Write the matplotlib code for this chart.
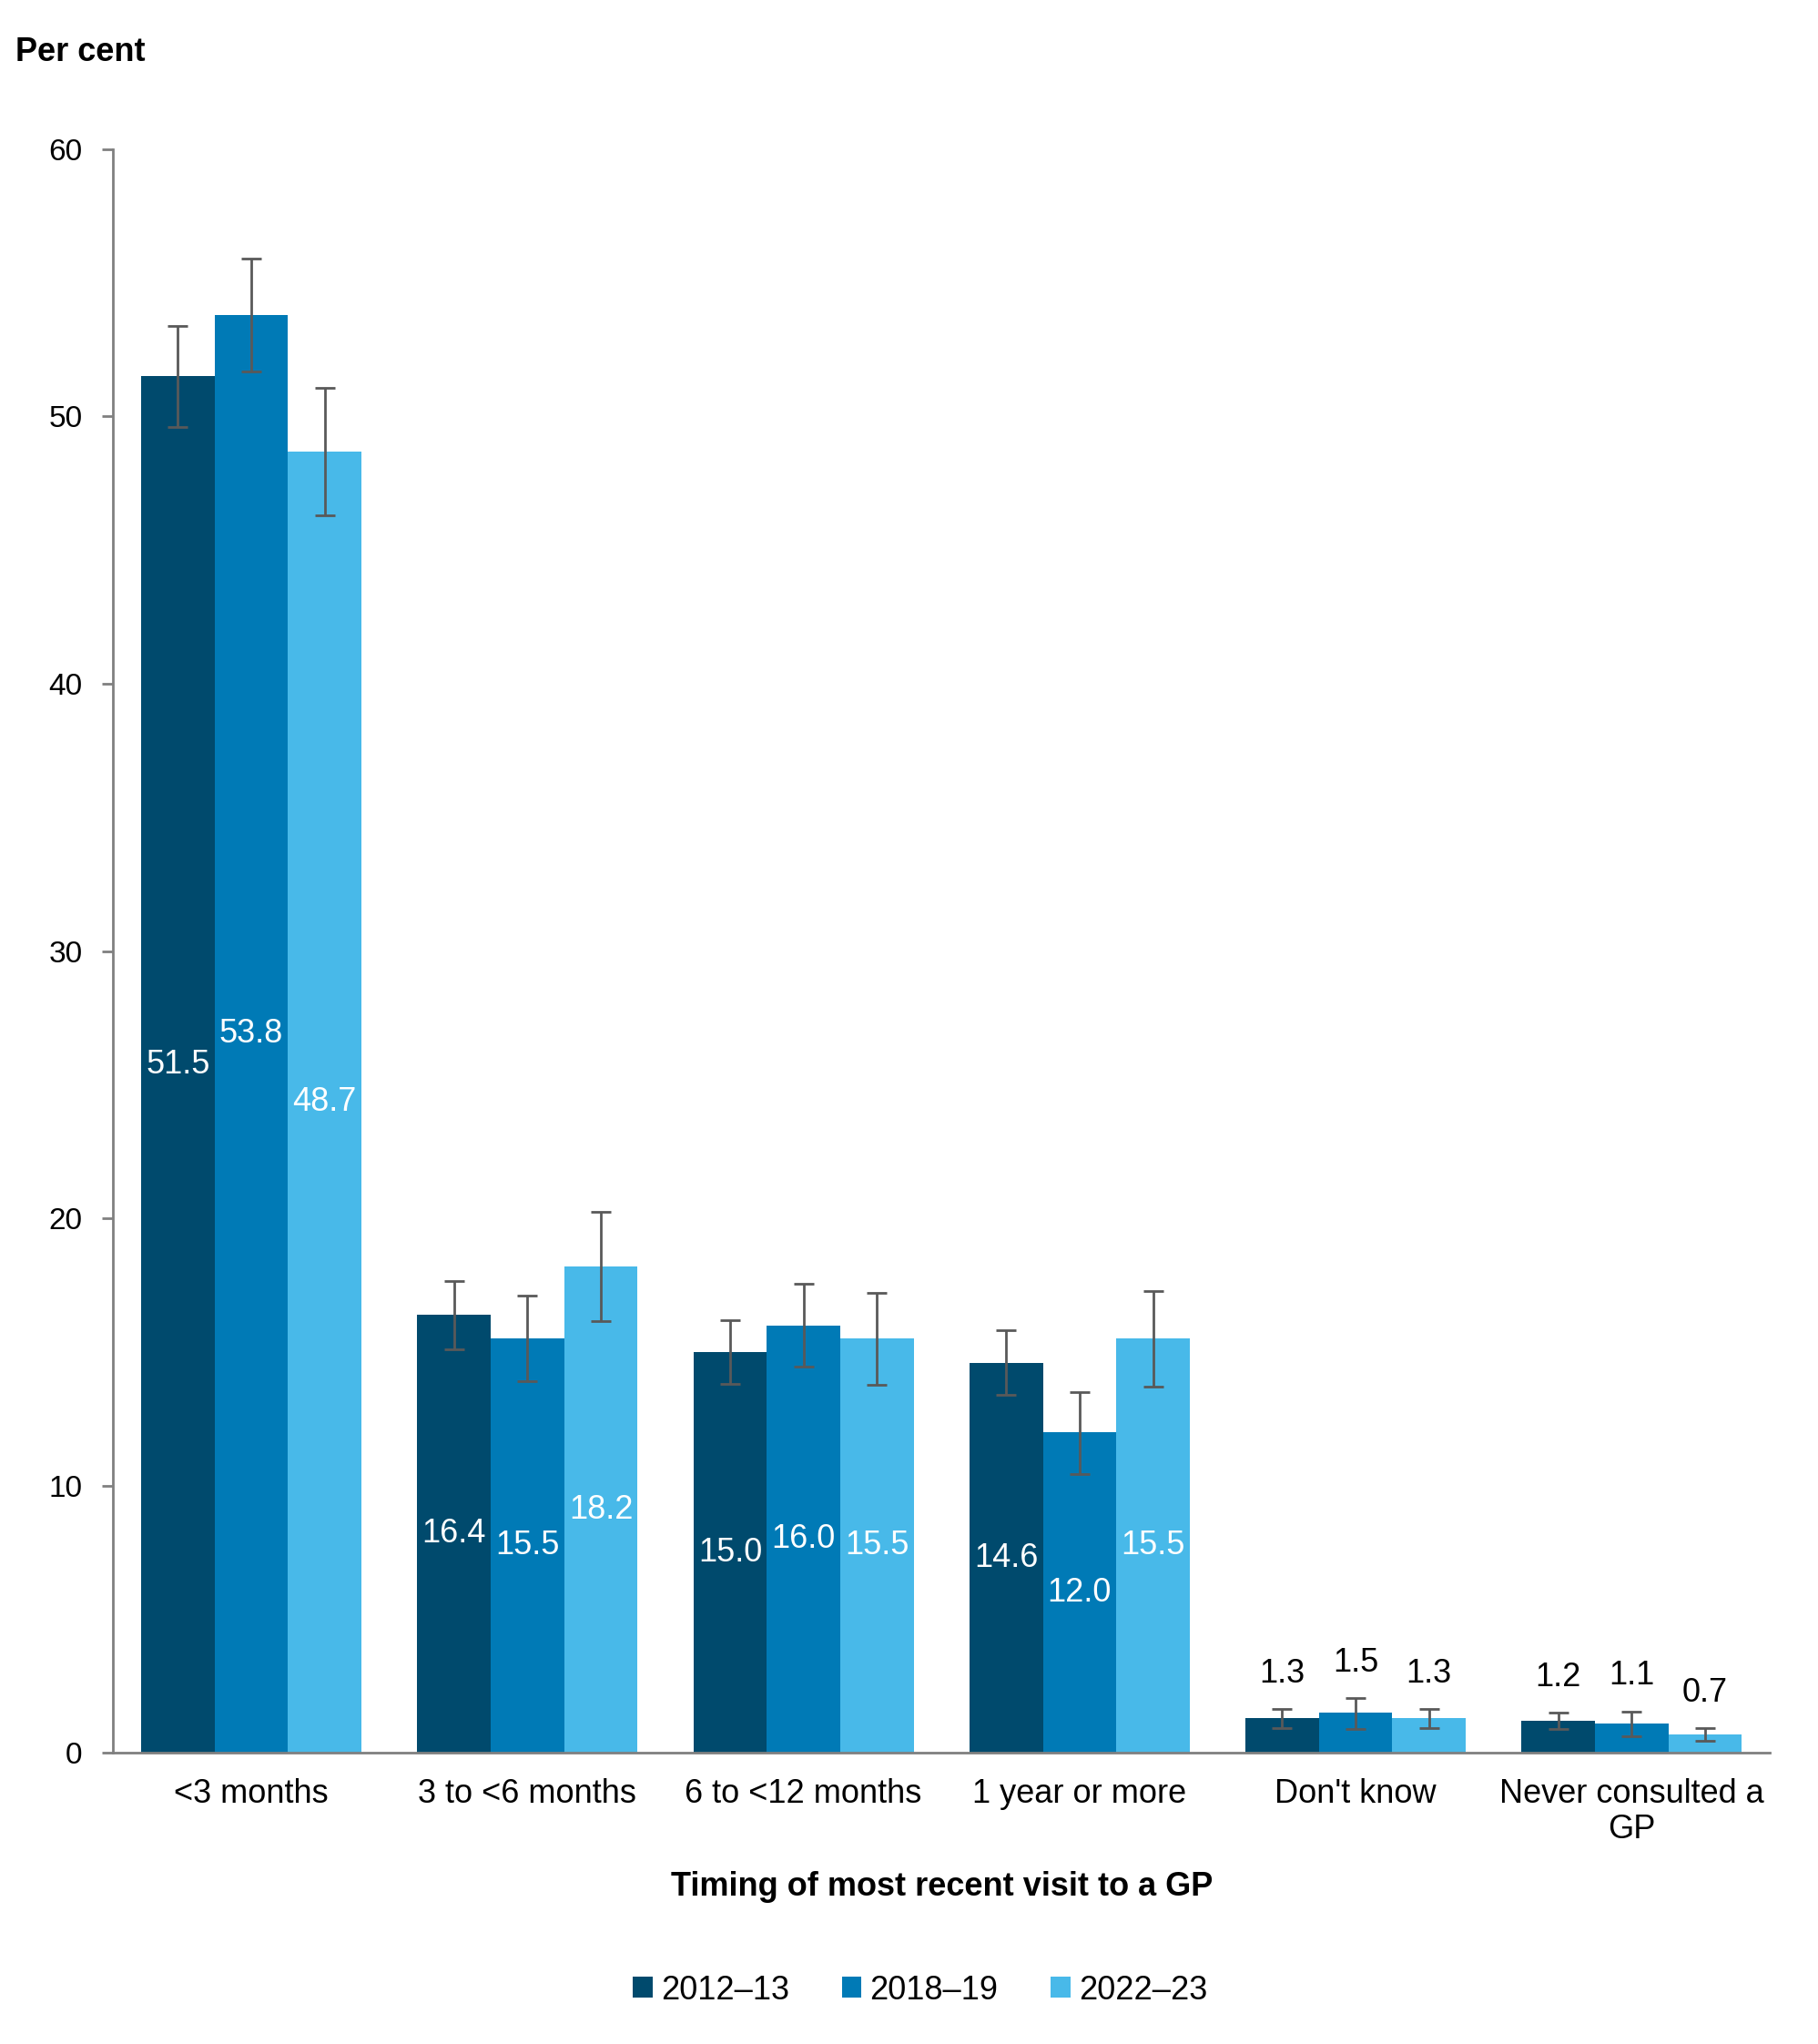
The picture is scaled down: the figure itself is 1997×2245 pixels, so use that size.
import matplotlib
matplotlib.use("Agg")
import matplotlib.pyplot as plt
import numpy as np
from matplotlib.patches import Patch

plt.rcParams['font.family'] = ['Liberation Sans', 'DejaVu Sans']

categories = ["<3 months", "3 to <6 months", "6 to <12 months", "1 year or more",
              "Don't know", "Never consulted a\nGP"]
series = ["2012\u201313", "2018\u201319", "2022\u201323"]
values_2012 = [51.5, 16.4, 15.0, 14.6, 1.3, 1.2]
values_2018 = [53.8, 15.5, 16.0, 12.0, 1.5, 1.1]
values_2022 = [48.7, 18.2, 15.5, 15.5, 1.3, 0.7]
upper_2012 = [53.4, 17.65, 16.2, 15.8, 1.64, 1.51]
lower_2012 = [49.6, 15.1, 13.8, 13.4, 0.92, 0.89]
upper_2018 = [55.9, 17.1, 17.55, 13.5, 2.05, 1.55]
lower_2018 = [51.7, 13.9, 14.45, 10.45, 0.89, 0.62]
upper_2022 = [51.07, 20.24, 17.2, 17.27, 1.64, 0.92]
lower_2022 = [46.3, 16.15, 13.77, 13.7, 0.92, 0.45]
yticks = [0, 10, 20, 30, 40, 50, 60]

colors = ["#004A6D", "#007AB6", "#48B9E9"]
vals = [values_2012, values_2018, values_2022]
ups = [upper_2012, upper_2018, upper_2022]
lows = [lower_2012, lower_2018, lower_2022]

fig = plt.figure(figsize=(19.97, 22.45), dpi=100)
ax = fig.add_axes([0.06234, 0.1424, 0.9111, 0.7846])

x = np.arange(len(categories))
w = 0.266
for i in range(3):
    v = np.array(vals[i])
    up = np.array(ups[i])
    lo = np.array(lows[i])
    pos = x + (i - 1) * w
    ax.bar(pos, v, width=w, color=colors[i], edgecolor='none', zorder=2)
    ax.errorbar(pos, v, yerr=[v - lo, up - v], fmt='none', ecolor='#595959',
                elinewidth=2.0, capsize=7.6, capthick=2.0, zorder=3)
    for j in range(len(categories)):
        if v[j] > 5:
            ax.text(pos[j], v[j] / 2, f"{v[j]:.1f}", ha='center', va='center',
                    color='white', fontsize=26, zorder=4)
        else:
            ax.annotate(f"{v[j]:.1f}", xy=(pos[j], up[j]), xytext=(0, 28),
                        textcoords='offset points', ha='center', va='center',
                        color='black', fontsize=26, zorder=4)

ax.set_xlim(-0.5, len(categories) - 0.5)
ax.set_ylim(0, 60)
ax.set_yticks(yticks)
ax.set_yticklabels([str(t) for t in yticks], fontsize=24)
ax.set_xticks(x)
ax.set_xticklabels(categories, fontsize=26, linespacing=1.15)
ax.tick_params(axis='x', length=0, pad=20)
ax.tick_params(axis='y', length=8.4, width=2, color='#808080', pad=16)

for s in ['top', 'right']:
    ax.spines[s].set_visible(False)
for s in ['left', 'bottom']:
    ax.spines[s].set_color('#808080')
    ax.spines[s].set_linewidth(2)

fig.text(0.0085, 0.9746, "Per cent", fontsize=26, fontweight='bold',
         ha='left', va='center')
fig.text(0.518, 1 - 2073 / 2245, "Timing of most recent visit to a GP",
         fontsize=26, fontweight='bold', ha='center', va='center')

handles = [Patch(facecolor=c, edgecolor='none') for c in colors]
fig.legend(handles, series, loc='center', bbox_to_anchor=(0.506, 1 - 2186 / 2245),
           ncol=3, frameon=False, fontsize=26, handlelength=0.6, handleheight=0.6,
           handletextpad=0.25, columnspacing=1.6)

fig.savefig("out.png", dpi=100)
